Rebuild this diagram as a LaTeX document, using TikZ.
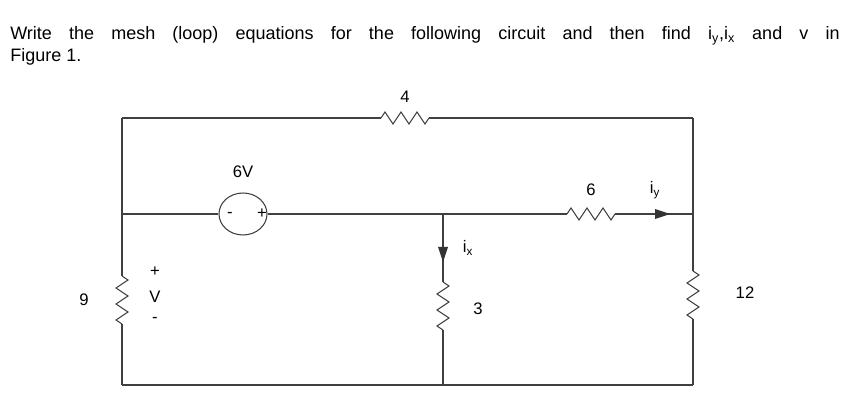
\documentclass[tikz,border=0pt]{standalone}
\usepackage{fontspec}
\setmainfont{Liberation Sans}
\usetikzlibrary{arrows.meta,shapes.geometric}
\begin{document}
\begin{tikzpicture}[x=0.75pt,y=-0.75pt,wire/.style={draw=black!75,line width=0.8pt},
 lbl/.style={font=\fontsize{12.5}{14}\selectfont,inner sep=0pt},
 vres/.pic={\draw[wire] (0,0) -- (6,4) -- (-6,12) -- (6,20) -- (-6,28) -- (6,36) -- (-6,44) -- (0,48);},
 hres/.pic={\draw[wire] (0,0) -- (4,-6) -- (12,6) -- (20,-6) -- (28,6) -- (36,-6) -- (44,6) -- (48,0);}]
\useasboundingbox (0,0) rectangle (868,413);
\node[anchor=north west,font=\fontsize{13.5}{16.5}\selectfont,inner sep=0pt] (title) at (10,26)
 {\parbox{622pt}{\parindent=0pt Write the mesh (loop) equations for the following circuit and then find i$_{\mathrm{y}}$,i$_{\mathrm{x}}$ and v in\linebreak Figure 1.}};
% corners
\coordinate (TL) at (122,118); \coordinate (TR) at (693,118);
\coordinate (ML) at (122,214); \coordinate (MM) at (443,214); \coordinate (MR) at (693,214);
\coordinate (BL) at (122,385); \coordinate (BM) at (443,385); \coordinate (BR) at (693,385);
% top
\draw[wire] (TL) -- (381,118); \pic at (381,118) {hres}; \draw[wire] (429,118) -- (TR);
\node[lbl] (r4) at (405,97) {4};
% left
\draw[wire] (TL) -- (122,276); \pic at (122,276) {vres}; \draw[wire] (122,324) -- (BL);
\node[lbl] (r9) at (84,300) {9};
\node[lbl] (vp) at (155,272) {+};
\node[lbl] (vv) at (155,297) {V};
\node[lbl] (vm) at (155,320) {-};
% right
\draw[wire] (TR) -- (693,271); \pic at (693,271) {vres}; \draw[wire] (693,319) -- (BR);
\node[lbl] (r12) at (745,293) {12};
% middle wire
\node[draw=black!75,line width=0.8pt,ellipse,minimum width=36pt,minimum height=31.5pt,inner sep=0pt] (src) at (243,214) {};
\node[lbl] at (230,215) {-};
\node[lbl] at (262,214) {+};
\node[lbl] (v6) at (243,172) {6V};
\draw[wire] (ML) -- (src.west); \draw[wire] (src.east) -- (MM) -- (567,214);
\pic at (567,214) {hres};
\draw[wire] (615,214) -- (MR);
\fill[black!80] (670,214) -- (655,209) -- (655,219) -- cycle;
\node[lbl] (r6) at (591,190) {6};
\node[lbl] (iy) at (655,190) {i$_{\mathrm{y}}$};
% center branch
\draw[wire] (MM) -- (443,282); \pic at (443,282) {vres}; \draw[wire] (443,330) -- (BM);
\fill[black!80] (443,262) -- (438,247) -- (448,247) -- cycle;
\node[lbl] (ix) at (468,248) {i$_{\mathrm{x}}$};
\node[lbl] (r3) at (478,309) {3};
% bottom
\draw[wire] (BL) -- (BR);
\end{tikzpicture}
\end{document}
